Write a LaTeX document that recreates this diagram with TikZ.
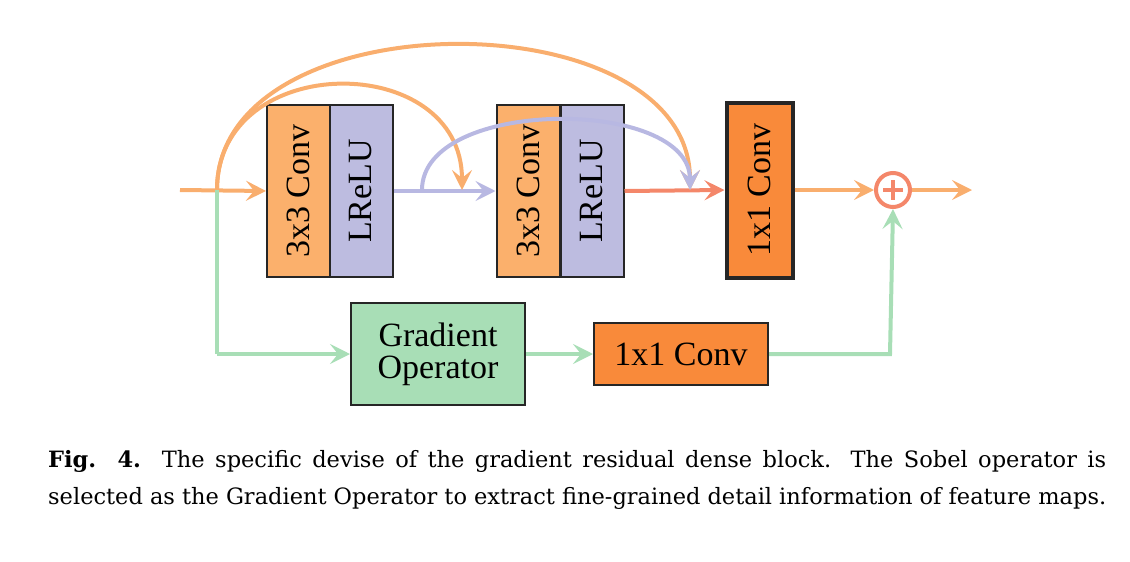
\documentclass[tikz,border=0pt]{standalone}
\usepackage{fontspec}
\setmainfont{Liberation Serif}
\newfontfamily\capfont{DejaVu Serif}
\usetikzlibrary{arrows.meta}
\definecolor{convc}{HTML}{FBB06C}
\definecolor{reluc}{HTML}{BDBCE0}
\definecolor{darkc}{HTML}{F98A3A}
\definecolor{gradc}{HTML}{A8DEB6}
\definecolor{aor}{HTML}{F9AE6E}
\definecolor{apu}{HTML}{B8B8E2}
\definecolor{ared}{HTML}{F4876A}
\begin{document}
\begin{tikzpicture}[x=1pt,y=-1pt,
  blk/.style={draw=black!85,line width=2pt,minimum width=63pt,minimum height=172pt,inner sep=0pt,font=\fontsize{34}{36}\selectfont},
  box/.style={draw=black!85,line width=2pt,inner sep=0pt,font=\fontsize{34}{36}\selectfont,align=center},
  ar/.style={line width=4pt,-{Stealth[length=20pt,width=20pt,inset=8pt]}},
  ln/.style={line width=4pt}]
\useasboundingbox (0,0) rectangle (1130,562);
\node[blk,fill=convc] (c1) at (298.5,191) {\rotatebox{90}{3x3 Conv}};
\node[blk,fill=reluc] (r1) at (361,191) {\rotatebox{90}{LReLU}};
\node[blk,fill=convc] (c2) at (528,191) {\rotatebox{90}{3x3 Conv}};
\node[blk,fill=reluc] (r2) at (592,191) {\rotatebox{90}{LReLU}};
\node[blk,fill=darkc,line width=4pt,minimum width=66pt,minimum height=175pt] (c3) at (759.5,190) {\rotatebox{90}{1x1 Conv}};
\node[circle,draw=ared,line width=4pt,minimum size=34pt,inner sep=0pt] (p) at (893,190) {};
\draw[ared,line width=4pt] (p.center) ++(-10,0) -- ++(20,0) (p.center) ++(0,-10) -- ++(0,20);
\node[box,fill=gradc,minimum width=174pt,minimum height=102pt] (g) at (438,354) {Gradient\\[-4pt]Operator};
\node[box,fill=darkc,minimum width=174pt,minimum height=62pt] (c4) at (681,354) {1x1 Conv};
\coordinate (in) at (180,190);
\coordinate (b) at (217,190);
\coordinate (bd) at (217,354);
\coordinate (m1) at (462,190);
\coordinate (m2) at (690,190);
\coordinate (pu) at (422,190);
\coordinate (out) at (972,190);
\coordinate (gc) at (890,354);
\draw[aor,ar] (in) -- (c1.west);
\draw[apu,ar] (r1.east) -- (c2.west);
\draw[ared,ar] (r2.east) -- (c3.west);
\draw[aor,ar] (c3.east) -- (p.west);
\draw[aor,ar] (p.east) -- (out);
\draw[aor,ar] (b) .. controls (217,-3) and (690,-3) .. (m2);
\draw[aor,ar] (b) .. controls (217,50) and (462,50) .. (m1);
\draw[apu,ar] (pu) .. controls (422,97) and (690,97) .. (m2);
\draw[gradc,ln] (b) -- (bd);
\draw[gradc,ar] (bd) -- (g.west);
\draw[gradc,ar] (g.east) -- (c4.west);
\draw[gradc,ar] (c4.east) -- (gc) -- (p.south);
\node[anchor=north west,text width=1058pt,align=justify,inner sep=0pt,font=\capfont\fontsize{22.5}{37}\selectfont] (cap) at (48,450)
{\textbf{Fig. 4.}\ \ The specific devise of the gradient residual dense block. The Sobel operator is selected as the Gradient Operator to extract fine-grained detail information of feature maps.};
\end{tikzpicture}
\end{document}
